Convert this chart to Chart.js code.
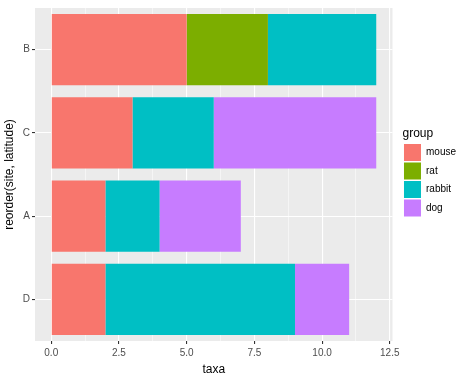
<!DOCTYPE html>
<html>
<head>
<meta charset="utf-8">
<script src="https://cdn.jsdelivr.net/npm/chart.js@4/dist/chart.umd.min.js"></script>
<style>
  html, body { margin: 0; padding: 0; background: #fff; }
  #wrap { width: 474px; height: 377px; }
</style>
</head>
<body>
<div id="wrap"><canvas id="barChart" width="474" height="377"></canvas></div>
<script>
// sites in plot order (top to bottom), reorder(site, latitude)
const sites = ['B', 'C', 'A', 'D'];
const groups = ['mouse', 'rat', 'rabbit', 'dog'];
const mouse = [5, 3, 2, 2];
const rat = [3, 0, 0, 0];
const rabbit = [4, 3, 2, 7];
const dog = [0, 6, 3, 2];
const xTicks = [0, 1.25, 2.5, 3.75, 5, 6.25, 7.5, 8.75, 10, 11.25, 12.5];

const colors = ['#F8766D', '#7CAE00', '#00BFC4', '#C77CFF'];
const values = [mouse, rat, rabbit, dog];

const isMajor = v => Math.abs(v / 2.5 - Math.round(v / 2.5)) < 1e-6;

// grey ggplot panel behind the bars
const panelBg = {
    id: 'panelBg',
    beforeDraw(chart) {
        const { ctx, chartArea: a } = chart;
        ctx.save();
        ctx.fillStyle = '#EBEBEB';
        ctx.fillRect(a.left, a.top, a.right - a.left, a.bottom - a.top);
        ctx.restore();
    }
};

// move the legend a bit away from the panel, like ggplot's guide box
const legendShift = {
    id: 'legendShift',
    afterLayout(chart) {
        const lg = chart.legend;
        const dx = chart.chartArea.right + 10 - lg.left;
        const dy = -18;
        lg.left += dx; lg.right += dx;
        lg.top += dy; lg.bottom += dy;
    }
};

const ctx = document.getElementById('barChart').getContext('2d');
new Chart(ctx, {
    type: 'bar',
    data: {
        labels: sites,
        datasets: groups.map((g, i) => ({
            label: g,
            data: values[i],
            backgroundColor: colors[i],
            borderWidth: 0,
            barPercentage: 0.857,
            categoryPercentage: 1
        }))
    },
    options: {
        indexAxis: 'y',
        responsive: false,
        animation: false,
        layout: { padding: { top: 5, right: 18 } },
        plugins: {
            tooltip: { enabled: false },
            legend: {
                position: 'right',
                align: 'center',
                title: {
                    display: true,
                    text: 'group',
                    position: 'start',
                    color: '#000',
                    font: { family: 'Liberation Sans, Arial', size: 12 },
                    padding: { top: 0, bottom: 0 }
                },
                labels: {
                    boxWidth: 17,
                    boxHeight: 17,
                    padding: 1.5,
                    color: '#000',
                    font: { family: 'Liberation Sans, Arial', size: 10 }
                }
            }
        },
        scales: {
            x: {
                type: 'linear',
                stacked: true,
                min: -0.6,
                max: 12.6,
                afterBuildTicks: scale => {
                    scale.ticks = xTicks.map(v => ({ value: v }));
                },
                afterFit: scale => { scale.height = 36; },
                border: { display: false },
                grid: {
                    color: '#FFFFFF',
                    lineWidth: c => isMajor(c.tick.value) ? 1.1 : 0.5,
                    tickColor: c => isMajor(c.tick.value) ? '#333333' : 'rgba(0,0,0,0)',
                    tickLength: 3
                },
                ticks: {
                    autoSkip: false,
                    maxRotation: 0,
                    padding: 3,
                    color: '#4D4D4D',
                    font: { family: 'Liberation Sans, Arial', size: 10 },
                    callback: v => isMajor(v) ? v.toFixed(1) : ''
                },
                title: {
                    display: true,
                    text: 'taxa',
                    color: '#000',
                    font: { family: 'Liberation Sans, Arial', size: 12 },
                    padding: { top: 1, bottom: 0 }
                }
            },
            y: {
                stacked: true,
                offset: true,
                afterFit: scale => { scale.width = 35; },
                border: { display: false },
                grid: {
                    offset: false,
                    color: '#FFFFFF',
                    lineWidth: 1.1,
                    tickColor: '#333333',
                    tickLength: 3
                },
                ticks: {
                    padding: 2,
                    color: '#4D4D4D',
                    font: { family: 'Liberation Sans, Arial', size: 10 }
                },
                title: {
                    display: true,
                    text: 'reorder(site, latitude)',
                    color: '#000',
                    font: { family: 'Liberation Sans, Arial', size: 12 },
                    padding: { top: 2, bottom: 0 }
                }
            }
        }
    },
    plugins: [panelBg, legendShift]
});
</script>
</body>
</html>
